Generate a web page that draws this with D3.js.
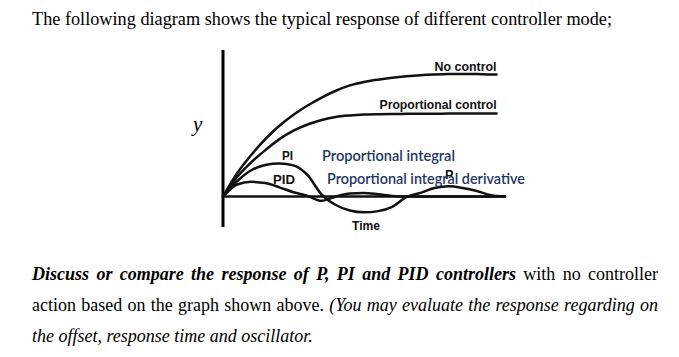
<!DOCTYPE html>
<html>
<head>
<meta charset="utf-8">
<script src="https://cdn.jsdelivr.net/npm/d3@7/dist/d3.min.js"></script>
<style>
  html, body { margin: 0; padding: 0; background: #ffffff; }
  svg { display: block; }
</style>
</head>
<body>
<svg id="chart" width="679" height="357"></svg>
<script>
// ---------------- data ----------------
const time = [0, 0.5, 1, 1.5, 2, 2.5, 3, 3.5, 4, 4.5, 5, 5.5, 6, 6.5, 7, 7.5, 8, 8.5, 9, 9.5, 9.7, 10];
const noControl   = [0, 0.19, 0.34, 0.47, 0.58, 0.67, 0.745, 0.81, 0.866, 0.91, 0.938, 0.957, 0.972, 0.984, 0.993, 0.999, 1.003, 1.004, 1.003, 1.0, 1.0, null];
const propControl = [0, 0.16, 0.28, 0.38, 0.47, 0.54, 0.59, 0.627, 0.652, 0.664, 0.671, 0.674, 0.676, 0.677, 0.678, 0.678, 0.679, 0.679, 0.68, 0.68, 0.68, null];
const piControl   = [0, 0.125, 0.215, 0.258, 0.27, 0.255, 0.175, 0.015, -0.07, -0.115, -0.13, -0.12, -0.085, -0.005, 0.03, 0.07, 0.084, 0.07, 0.045, 0.01, 0.003, 0];
const pidControl  = [0, 0.098, 0.12, 0.11, 0.075, 0.035, 0.005, -0.035, 0.0, 0.025, 0.028, 0.018, 0.005, 0, 0, 0, 0, 0, 0, 0, 0, 0];

const seriesNames = ["No control", "Proportional control", "PI", "PID"];
const blueLabels = ["Proportional integral", "Proportional integral derivative"];
const axisLabels = { y: "y", x: "Time" };

const titleText = "The following diagram shows the typical response of different controller mode;";
const paraLines = [
  [{ t: "Discuss or compare the response of P, PI and PID controllers", s: "bi" }, { t: "with no controller", s: "n" }],
  [{ t: "action based on the graph shown above.", s: "n" }, { t: "(You may evaluate the response regarding on", s: "i" }],
  [{ t: "the offset, response time and oscillator.", s: "i" }]
];

// ---------------- drawing ----------------
const svg = d3.select("#chart");
const x = d3.scaleLinear().domain([0, 10]).range([223, 505]);
const y = d3.scaleLinear().domain([-0.25, 1.2]).range([227, 50]);

// title
svg.append("text")
  .attr("x", 32).attr("y", 25)
  .attr("font-family", "'Liberation Serif', 'Times New Roman', serif")
  .attr("font-size", 18)
  .attr("fill", "#000")
  .attr("textLength", 580)
  .attr("lengthAdjust", "spacingAndGlyphs")
  .text(titleText);

// axes
svg.append("line")
  .attr("x1", x(0)).attr("x2", x(0))
  .attr("y1", y(1.2)).attr("y2", y(-0.25))
  .attr("stroke", "#000").attr("stroke-width", 3);
svg.append("line")
  .attr("x1", x(0)).attr("x2", x(10))
  .attr("y1", y(0)).attr("y2", y(0))
  .attr("stroke", "#111").attr("stroke-width", 2.5);

// curves
const line = d3.line()
  .defined(d => d[1] !== null)
  .x(d => x(d[0]))
  .y(d => y(d[1]))
  .curve(d3.curveMonotoneX);

[noControl, propControl, piControl, pidControl].forEach(vals => {
  svg.append("path")
    .datum(time.map((t, i) => [t, vals[i]]))
    .attr("d", line)
    .attr("fill", "none")
    .attr("stroke", "#111")
    .attr("stroke-width", 2.5)
    .attr("stroke-linejoin", "round")
    .attr("stroke-linecap", "round");
});

// black bold labels
const sans = "'Liberation Sans', Arial, sans-serif";
function blackLabel(txt, xp, yp, len, size) {
  svg.append("text")
    .attr("x", xp).attr("y", yp)
    .attr("font-family", sans)
    .attr("font-weight", "bold")
    .attr("font-size", size || 12)
    .attr("fill", "#111")
    .attr("textLength", len)
    .attr("lengthAdjust", "spacingAndGlyphs")
    .text(txt);
}
blackLabel(seriesNames[0], x(9.7) - 62, y(1.0) - 3.5, 62);
blackLabel(seriesNames[1], x(9.7) - 117, y(0.68) - 4, 117);
blackLabel(seriesNames[2], 282, 160, 11);
blackLabel(seriesNames[3], 273, 184, 22);
blackLabel(axisLabels.x, 352, 230, 28);
blackLabel("P", 445, 179, 8.5);

// blue labels
const blue = "#1f3763";
svg.append("text")
  .attr("x", 322).attr("y", 161)
  .attr("font-family", "Lato, 'Open Sans', sans-serif")
  .attr("font-size", 15.5)
  .attr("font-weight", 600)
  .attr("fill", blue)
  .attr("textLength", 133)
  .attr("lengthAdjust", "spacingAndGlyphs")
  .text(blueLabels[0]);
svg.append("text")
  .attr("x", 327).attr("y", 184)
  .attr("font-family", "Lato, 'Open Sans', sans-serif")
  .attr("font-size", 15.5)
  .attr("font-weight", 600)
  .attr("fill", blue)
  .attr("textLength", 198)
  .attr("lengthAdjust", "spacingAndGlyphs")
  .text(blueLabels[1]);

// y label
svg.append("text")
  .attr("x", 193).attr("y", 131)
  .attr("font-family", "'Liberation Serif', 'Times New Roman', serif")
  .attr("font-style", "italic")
  .attr("font-size", 21)
  .attr("fill", "#000")
  .text(axisLabels.y);

// paragraph (justified)
const serif = "'Liberation Serif', 'Times New Roman', serif";
function styleText(sel, s) {
  sel.attr("font-family", serif).attr("font-size", 18)
    .attr("font-style", s === "n" ? "normal" : "italic")
    .attr("font-weight", s === "bi" ? "bold" : "normal");
  return sel;
}
function measure(txt, s) {
  const t = styleText(svg.append("text"), s).text(txt);
  const w = t.node().getComputedTextLength();
  t.remove();
  return w;
}
const left = 32, right = 658;
const baselines = [280, 311, 342];
paraLines.forEach((segs, li) => {
  const words = [];
  segs.forEach(seg => seg.t.split(" ").forEach(w => words.push({ w, s: seg.s })));
  words.forEach(o => o.len = measure(o.w, o.s));
  const total = d3.sum(words, o => o.len);
  const justify = li < paraLines.length - 1;
  const gap = justify ? (right - left - total) / (words.length - 1) : 4.5;
  let cx = left;
  const txt = svg.append("text").attr("y", baselines[li]).attr("fill", "#000");
  words.forEach(o => {
    styleText(txt.append("tspan"), o.s).attr("x", cx).text(o.w);
    cx += o.len + gap;
  });
});
</script>
</body>
</html>
